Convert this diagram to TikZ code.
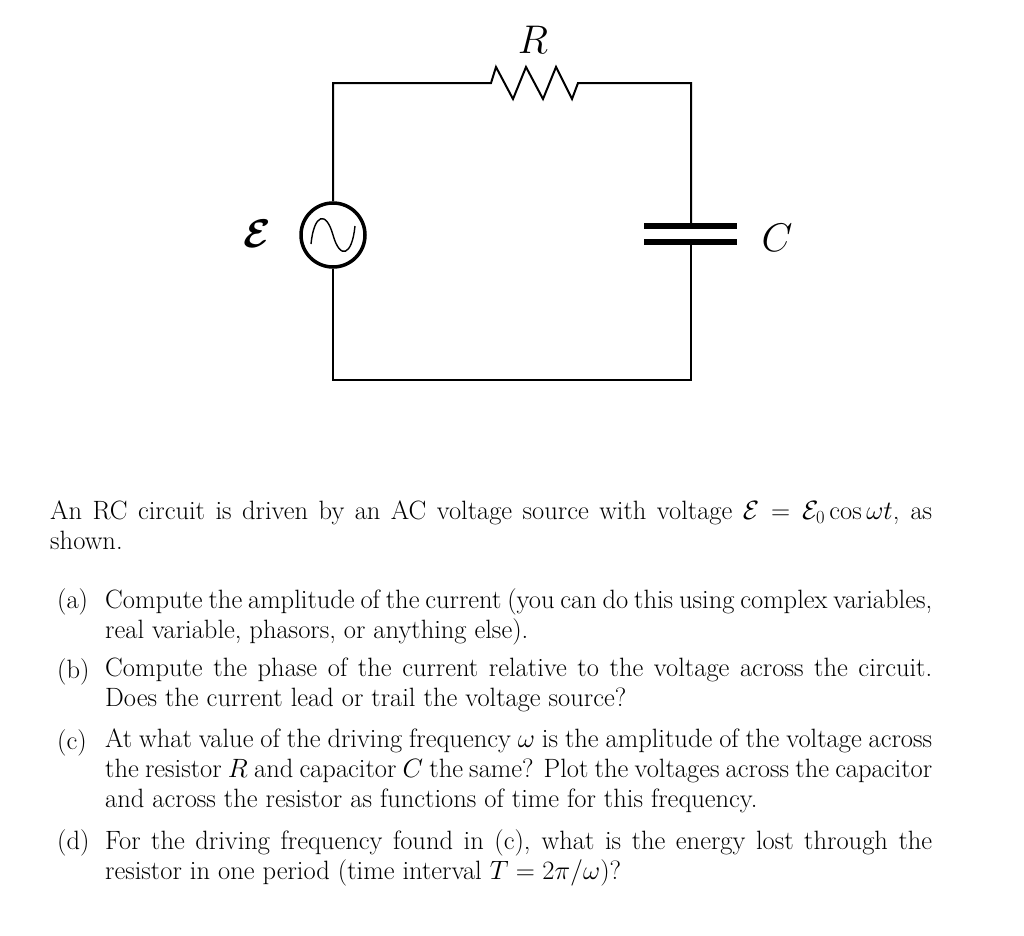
\RequirePackage{fix-cm}
\documentclass[tikz,border=0pt]{standalone}
\usepackage{amsmath,bm}
\begin{document}
\begin{tikzpicture}[x=1pt,y=-1pt,
  wire/.style={line width=2pt},
  txt/.style={anchor=north west,inner sep=0pt,align=justify,font=\fontsize{26.5}{30}\selectfont},
  lab/.style={anchor=north west,inner sep=0pt,font=\fontsize{26.5}{30}\selectfont}]
\useasboundingbox (0,0) rectangle (1024,935);
\coordinate (tl) at (333,83); \coordinate (tr) at (691,83);
\coordinate (bl) at (333,380); \coordinate (br) at (691,380);
\coordinate (r1) at (491,83); \coordinate (r2) at (578,83);
\node[circle,draw,line width=3.5pt,minimum size=64pt,inner sep=0pt] (src) at (333,235) {};
\coordinate (c1) at (691,226); \coordinate (c2) at (691,242);
\draw[wire] (src.north) -- (tl) -- (r1) -- (496,67) -- (513,99) -- (526,67) -- (543,99) -- (556,67) -- (572,99) -- (r2) -- (tr) -- (c1);
\draw[wire] (c2) -- (br) -- (bl) -- (src.south);
\draw[line width=5.5pt] (644,226) -- (737,226) (644,242) -- (737,242);
\draw[line width=1.4pt] (311,244) .. controls (314,214) and (326,210) .. (333,235) .. controls (340,260) and (352,256) .. (355,226);
\node[font=\fontsize{40}{40}\selectfont] (R) at (533,40) {$R$};
\node[font=\fontsize{40}{40}\selectfont] (C) at (777,238) {$C$};
\node[font=\fontsize{40}{40}\selectfont] (E) at (257,234) {$\bm{\mathcal{E}}$};
\node[txt,text width=882pt] (p) at (50,501) {An RC circuit is driven by an AC voltage source with voltage $\mathcal{E}=\mathcal{E}_0\cos\omega t$, as shown.};
\node[lab] (la) at (57,588) {(a)};
\node[txt,text width=827pt] (ta) at (105,588) {Compute the amplitude of the current (you can do this using complex variables, real variable, phasors, or anything else).};
\node[lab] (lb) at (57,658) {(b)};
\node[txt,text width=827pt] (tb) at (105,658) {Compute the phase of the current relative to the voltage across the circuit. Does the current lead or trail the voltage source?};
\node[lab] (lc) at (57,729) {(c)};
\node[txt,text width=827pt] (tc) at (105,729) {At what value of the driving frequency $\omega$ is the amplitude of the voltage across the resistor $R$ and capacitor $C$ the same? Plot the voltages across the capacitor and across the resistor as functions of time for this frequency.};
\node[lab] (ld) at (57,829) {(d)};
\node[txt,text width=827pt] (td) at (105,829) {For the driving frequency found in (c), what is the energy lost through the resistor in one period (time interval $T=2\pi/\omega$)?};
\end{tikzpicture}
\end{document}
